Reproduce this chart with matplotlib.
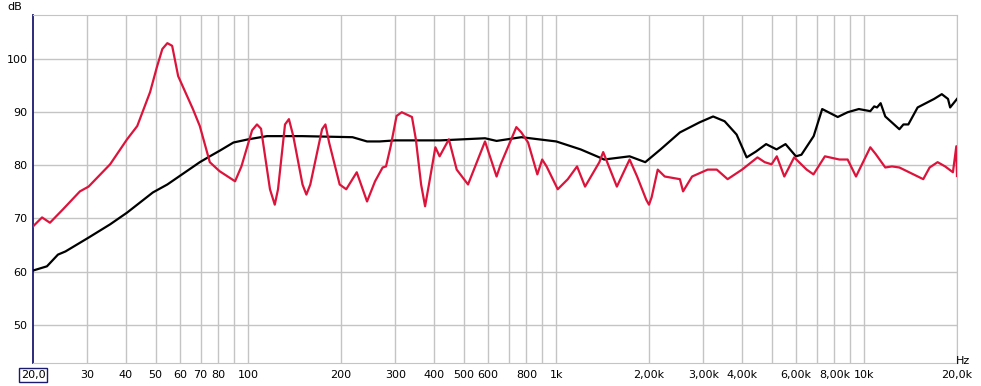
import numpy as np
import matplotlib
matplotlib.use("Agg")
import matplotlib.pyplot as plt

# red trace (frequency in Hz, level in dB)
red_f = [20.0, 21.4, 22.7, 25.0, 28.4, 30.3, 35.6, 40.4, 43.6, 48.0, 50.5, 52.6, 54.6,
         56.6, 59.2, 66.1, 69.6, 75.0, 80.7, 90.6, 95.0, 102.9, 106.7, 110.0, 117.6,
         121.9, 124.9, 131.6, 135.5, 140.0, 150.0, 154.4, 159.0, 173.6, 178.0, 183.0,
         198.0, 208.0, 225.0, 243.0, 258.0, 273.0, 280.0, 290.0, 303.0, 315.0, 340.0,
         350.0, 364.0, 375.0, 386.0, 405.0, 418.0, 448.0, 475.0, 517.0, 587.0, 640.0,
         660.0, 742.0, 770.0, 810.0, 868.0, 900.0, 930.0, 1011.0, 1090.0, 1168.0,
         1240.0, 1380.0, 1420.0, 1573.0, 1730.0, 1830.0, 1960.0, 2000.0, 2040.0,
         2135.0, 2250.0, 2520.0, 2580.0, 2760.0, 3100.0, 3320.0, 3600.0, 4010.0,
         4500.0, 4750.0, 5000.0, 5200.0, 5500.0, 5920.0, 6500.0, 6840.0, 7450.0,
         8300.0, 8830.0, 9400.0, 10460.0, 10900.0, 11700.0, 12300.0, 13000.0,
         15540.0, 16300.0, 17300.0, 18300.0, 19400.0, 19900.0, 20000.0]
red_db = [68.5, 70.2, 69.2, 71.7, 75.1, 76.0, 80.2, 84.9, 87.4, 93.8, 98.5, 101.9, 103.0,
          102.5, 96.8, 90.6, 87.4, 80.6, 78.9, 77.0, 79.8, 86.6, 87.7, 86.9, 75.5,
          72.6, 75.5, 87.7, 88.7, 85.5, 76.4, 74.5, 76.4, 86.8, 87.7, 84.3,
          76.4, 75.5, 78.7, 73.2, 77.0, 79.6, 79.8, 83.6, 89.3, 90.0, 89.1,
          84.9, 76.4, 72.3, 76.4, 83.4, 81.7, 84.9, 79.2, 76.4, 84.5, 77.9,
          80.2, 87.2, 86.2, 84.3, 78.3, 81.1, 79.8, 75.5, 77.4, 79.8,
          76.0, 80.6, 82.5, 76.0, 81.1, 77.9, 73.5, 72.6, 74.0,
          79.2, 77.9, 77.4, 75.1, 77.9, 79.2, 79.2, 77.4, 79.2,
          81.5, 80.6, 80.2, 81.7, 77.9, 81.5, 79.2, 78.3, 81.7,
          81.1, 81.1, 77.9, 83.4, 82.1, 79.6, 79.8, 79.6,
          77.4, 79.6, 80.6, 79.8, 78.7, 83.6, 78.0]

# black trace
blk_f = [20.0, 22.2, 24.1, 25.5, 30.3, 35.6, 40.4, 49.0, 54.6, 69.6, 75.0, 81.0,
         89.5, 100.0, 115.0, 150.0, 218.0, 243.0, 267.0, 300.0, 420.0, 587.0, 640.0,
         770.0, 1000.0, 1200.0, 1380.0, 1430.0, 1730.0, 1945.0, 2180.0, 2520.0,
         2920.0, 3230.0, 3520.0, 3850.0, 4150.0, 4450.0, 4800.0, 5190.0, 5550.0,
         6000.0, 6250.0, 6850.0, 7300.0, 8200.0, 8830.0, 9600.0, 10460.0, 10770.0,
         11000.0, 11300.0, 11700.0, 13000.0, 13400.0, 13900.0, 14900.0, 16850.0,
         17850.0, 18700.0, 19000.0, 20000.0]
blk_db = [60.2, 61.0, 63.2, 63.8, 66.4, 68.9, 71.1, 74.9, 76.4, 80.6, 81.7, 82.8,
          84.3, 84.9, 85.5, 85.5, 85.3, 84.5, 84.5, 84.7, 84.7, 85.1, 84.6,
          85.3, 84.5, 83.0, 81.5, 81.1, 81.7, 80.6, 83.0, 86.2,
          88.1, 89.2, 88.3, 85.8, 81.5, 82.6, 84.0, 83.0, 84.0,
          81.7, 82.0, 85.5, 90.6, 89.1, 90.0, 90.6, 90.2, 91.1,
          90.9, 91.7, 89.2, 86.8, 87.7, 87.7, 90.9, 92.5,
          93.4, 92.5, 90.9, 92.5]

grid_f = [30, 40, 50, 60, 70, 80, 90, 100, 200, 300, 400, 500, 600, 700, 800, 900,
          1000, 2000, 3000, 4000, 5000, 6000, 7000, 8000, 9000, 10000, 20000]
tick_f = [20, 30, 40, 50, 60, 70, 80, 100, 200, 300, 400, 500, 600, 800, 1000,
          2000, 3000, 4000, 6000, 8000, 10000, 20000]
tick_lbl = ["20,0", "30", "40", "50", "60", "70", "80", "100", "200", "300", "400",
            "500", "600", "800", "1k", "2,00k", "3,00k", "4,00k", "6,00k", "8,00k",
            "10k", "20,0k"]
y_ticks = [50, 60, 70, 80, 90, 100]

fig = plt.figure(figsize=(9.81, 3.86), dpi=100)
ax = fig.add_axes([33 / 981, 23 / 386, 924 / 981, 348 / 386])

ax.plot(blk_f, blk_db, color="black", lw=1.6, zorder=3, solid_joinstyle="round")
ax.plot(red_f, red_db, color="#dc143c", lw=1.6, zorder=4, solid_joinstyle="round")

ax.set_xscale("log")
ax.set_xlim(20, 20000)
ax.set_ylim(42.8, 108.3)

for f in grid_f:
    ax.axvline(f, color="#c4c4c4", lw=1, zorder=1)
for y in y_ticks:
    ax.axhline(y, color="#c4c4c4", lw=1, zorder=1)

ax.xaxis.set_minor_locator(matplotlib.ticker.NullLocator())
ax.set_xticks(tick_f)
ax.set_xticklabels(tick_lbl)
ax.set_yticks(y_ticks)
ax.tick_params(length=0, labelsize=8, pad=5)
ax.tick_params(axis="y", pad=4)

for side in ["top", "right", "bottom"]:
    ax.spines[side].set_color("#c4c4c4")
ax.spines["left"].set_color("#1a1a6e")
ax.spines["left"].set_linewidth(1.3)

ax.get_xticklabels()[0].set_bbox(dict(boxstyle="square,pad=0.15", fc="white", ec="#1a1a6e", lw=1))

fig.text(15 / 981, 1 - 7 / 386, "dB", fontsize=8, ha="center", va="center")
fig.text(963 / 981, 1 - 361 / 386, "Hz", fontsize=8, ha="center", va="center")

fig.savefig("out.png", dpi=100)
